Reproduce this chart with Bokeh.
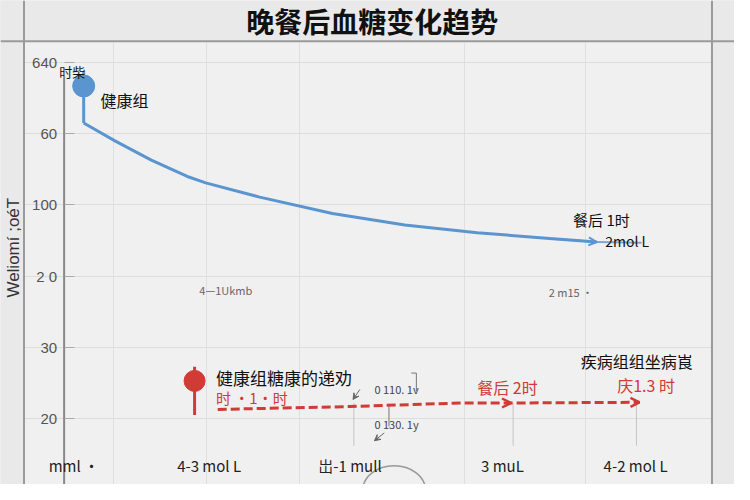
import math
from bokeh.plotting import figure
from bokeh.models import (Range1d, FixedTicker, Label, Arrow, VeeHead, OpenHead,
                          ColumnDataSource, BoxAnnotation, Span)
from bokeh.embed import file_html
from bokeh.resources import INLINE

# ---------------- data ----------------
title_text = "晚餐后血糖变化趋势"
y_axis_title = "Weliomí ;oéT"

y_ticks = [1, 2, 3, 4, 5, 6]
y_tick_labels = ["20", "30", "2 0", "100", "60", "640"]

x_ticks = [-2.3, 29.3, 62.2, 97.8, 128.9]
x_tick_labels = ["mml ·", "4-3 mol L", "岀-1 mull", "3 muL", "4-2 mol L"]

grid_x = [6.9, 28.6, 50.3, 88.9, 117.3]

# healthy group (blue)
healthy_x = [0, 7.3, 15.8, 24.2, 28.5, 41.1, 58.1, 75.0, 91.9, 108.8, 119.8]
healthy_y = [5.15, 4.90, 4.63, 4.40, 4.31, 4.11, 3.88, 3.72, 3.61, 3.53, 3.48]
healthy_tail_x = [119.8, 130.3]
healthy_tail_y = [3.48, 3.47]
healthy_marker_x = [0]
healthy_marker_y = [5.67]
healthy_stem_y = [5.88, 5.15]

# patient group (red)
patient_x = [31.3, 62.1, 88.0, 99.8, 129.8]
patient_y = [1.13, 1.17, 1.22, 1.22, 1.23]
patient_marker_x = [25.9]
patient_marker_y = [1.53]
patient_stem_y = [1.73, 1.05]

BLUE = "#5b95d0"
RED = "#d23a35"
FONT = "Noto Sans CJK SC"
OUTER = "#e9e9e9"
INNER = "#f0f0f0"
FRAME = "#9a9a9a"

# inner chart box (data units)
box_left, box_right, box_top = -13.94, 146.74, 6.299

p = figure(width=734, height=484,
           x_range=Range1d(-19.43, 152.0), y_range=Range1d(0.076, 6.870),
           output_backend="svg", toolbar_location=None, min_border=0)

p.background_fill_color = INNER
p.border_fill_color = OUTER
p.outline_line_color = None

# y axis inside the frame
ya = p.yaxis[0]
ya.fixed_location = -4.57
ya.ticker = FixedTicker(ticks=y_ticks)
ya.major_label_overrides = {t: l for t, l in zip(y_ticks, y_tick_labels)}
ya.axis_line_color = None
ya.major_tick_in = 10
ya.major_tick_out = 0
ya.major_tick_line_color = "#aaaaaa"
ya.minor_tick_line_color = None
ya.major_label_standoff = 7
ya.major_label_text_font = "Liberation Sans"
ya.major_label_text_font_size = "15px"
ya.major_label_text_color = "#555555"

xa = p.xaxis[0]
xa.fixed_location = 0.61
xa.ticker = FixedTicker(ticks=x_ticks)
xa.major_label_overrides = {t: l for t, l in zip(x_ticks, x_tick_labels)}
xa.axis_line_color = None
xa.major_tick_line_color = None
xa.minor_tick_line_color = None
xa.major_label_standoff = 3
xa.major_label_text_font = FONT
xa.major_label_text_font_size = "15px"
xa.major_label_text_color = "#222222"

p.xgrid.ticker = FixedTicker(ticks=grid_x)
p.xgrid.grid_line_color = "#dfdfdf"
p.ygrid.grid_line_color = "#dddddd"

# outer strips (cover grid outside the chart box)
for kw in (dict(left=-100, right=box_left, bottom=-10, top=20),
           dict(left=box_right, right=300, bottom=-10, top=20),
           dict(left=-100, right=300, bottom=box_top, top=20)):
    p.add_layout(BoxAnnotation(fill_color=OUTER, fill_alpha=1, line_color=None, level="underlay", **kw))

p.add_layout(Span(location=box_top, dimension="width", line_color=FRAME, line_width=2))
p.add_layout(Span(location=box_left, dimension="height", line_color=FRAME, line_width=2))
p.add_layout(Span(location=box_right, dimension="height", line_color=FRAME, line_width=2))

# axis rule
p.segment(x0=[-4.57], y0=[5.81], x1=[-4.57], y1=[0.0], line_color="#888888", line_width=2)

# bottom connector lines
p.segment(x0=[63.1, 100.3, 129.1], y0=[1.22, 1.22, 1.22], x1=[63.1, 100.3, 129.1], y1=[0.62, 0.62, 0.62],
          line_color="#c4c4c4", line_width=1)

# healthy series
p.line(healthy_tail_x, healthy_tail_y, line_color=BLUE, line_width=2, line_alpha=0.8)
p.line(healthy_x, healthy_y, line_color=BLUE, line_width=3)
p.segment(x0=healthy_marker_x, y0=[healthy_stem_y[0]], x1=healthy_marker_x, y1=[healthy_stem_y[1]],
          line_color=BLUE, line_width=3)
p.scatter(healthy_marker_x, healthy_marker_y, size=22, fill_color=BLUE, line_color=BLUE)
p.add_layout(Arrow(end=OpenHead(size=8, line_color=BLUE, line_width=2),
                   x_start=healthy_x[-2], y_start=healthy_y[-2], x_end=healthy_x[-1], y_end=healthy_y[-1],
                   line_color=BLUE, line_width=2))

# patient series
p.line(patient_x, patient_y, line_color=RED, line_width=3, line_dash="9 4")
p.segment(x0=patient_marker_x, y0=[patient_stem_y[0]], x1=patient_marker_x, y1=[patient_stem_y[1]],
          line_color=RED, line_width=3)
p.scatter(patient_marker_x, patient_marker_y, size=21, fill_color=RED, line_color=RED)
arrow_src = ColumnDataSource(dict(x0=[patient_x[2], patient_x[3]], y0=[patient_y[2], patient_y[3]],
                                  x1=[patient_x[3], patient_x[4]], y1=[patient_y[3], patient_y[4]]))
p.add_layout(Arrow(end=OpenHead(size=9, line_color=RED, line_width=2.5), source=arrow_src,
                   x_start="x0", y_start="y0", x_end="x1", y_end="y1", line_alpha=0))

# small decorations near the annotations
p.segment(x0=[77.7, 76.5, 71.3], y0=[1.64, 1.64, 1.19], x1=[77.7, 77.7, 71.3], y1=[1.39, 1.64, 0.89],
          line_color="#777777", line_width=1)
deco = ColumnDataSource(dict(x0=[64.5, 70.2], y0=[1.41, 0.80], x1=[62.9, 67.9], y1=[1.27, 0.69]))
p.add_layout(Arrow(end=VeeHead(size=6, fill_color="#666666", line_color="#666666"), source=deco,
                   x_start="x0", y_start="y0", x_end="x1", y_end="y1", line_color="#666666", line_width=1))
p.ellipse(x=[72.5], y=[0.0], width=14.6, height=0.68, fill_color=None, line_color="#999999", line_width=1.5)


def lab(text, x, y, size, color="#111111", align="left", font=FONT, angle=0, style="normal"):
    p.add_layout(Label(x=x, y=y, text=text, text_font=font, text_font_size=size, text_color=color,
                       text_align=align, text_baseline="middle", angle=angle, text_font_style=style))


lab(title_text, 67.4, 6.585, "28px", "#111111", "center", style="bold")
lab(y_axis_title, -16.46, 3.40, "17px", "#333333", "center", font="Liberation Sans", angle=math.pi / 2)
lab("时柴", -5.7, 5.87, "13px")
lab("健康组", 3.9, 5.47, "16px")
lab("餐后 1时", 114.3, 3.79, "15px")
lab("2mol L", 121.8, 3.50, "14px")
lab("2 m15 ·", 108.6, 2.78, "11px", "#666666")
lab("4—1Ukmb", 27.0, 2.81, "11px", "#666666")
lab("健康组糖康的递劝", 30.9, 1.58, "17px")
lab("时 ·1·时", 30.9, 1.30, "15px", RED)
lab("0 110. 1v", 67.9, 1.41, "11px", "#444444")
lab("0 130. 1y", 67.9, 0.92, "11px", "#444444")
lab("餐后 2时", 91.9, 1.45, "16px", RED)
lab("疾病组组坐病崀", 116.1, 1.815, "16px")
lab("庆1.3 时", 124.6, 1.47, "16px", RED)

open("out.html", "w").write(file_html(p, INLINE))
